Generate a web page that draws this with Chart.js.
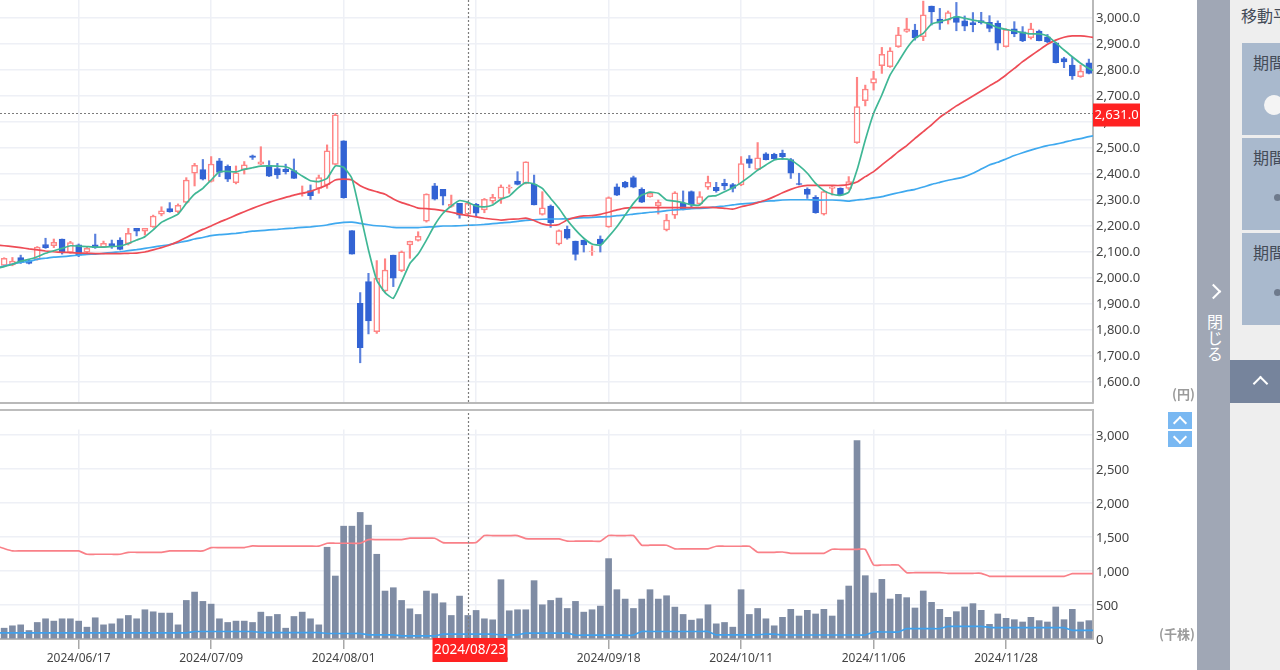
<!DOCTYPE html>
<html lang="ja">
<head>
<meta charset="utf-8">
<title>株価チャート</title>
<script src="https://cdn.jsdelivr.net/npm/chart.js@4/dist/chart.umd.min.js"></script>
<style>
  html, body { margin: 0; padding: 0; width: 1280px; height: 670px; overflow: hidden; background: #fff; font-family: "Noto Sans CJK JP", "Noto Sans", sans-serif; }
  canvas { position: absolute; left: 0; }
  .abs { position: absolute; }
  .card { position: absolute; left: 1242px; width: 38px; height: 92px; background: #a9b9cd; overflow: hidden; }
  .card span { position: absolute; left: 11px; top: 7px; font-size: 16px; color: #444b57; white-space: nowrap; }
  .chev { position: absolute; width: 8px; height: 8px; border-top: 2px solid #fff; border-right: 2px solid #fff; }
  .unit { position: absolute; color: #9b9b9b; font-size: 13px; font-weight: 700; white-space: nowrap; }
  .arrow { position: absolute; left: 1168px; width: 24px; background: #79b8f2; }
</style>
</head>
<body>
<canvas id="priceChart" width="1197" height="405" style="top:0"></canvas>
<canvas id="volumeChart" width="1197" height="261" style="top:409px"></canvas>
<div class="abs" style="left:0;top:409px;width:1093px;height:2px;background:#bdbdbd"></div>

<div class="unit" style="left:1172px;top:384px">(円)</div>
<div class="unit" style="left:1159px;top:624px">(千株)</div>
<div class="arrow" style="top:412px;height:17px"><div class="chev" style="left:7px;top:6px;transform:rotate(-45deg)"></div></div>
<div class="arrow" style="top:431px;height:16px"><div class="chev" style="left:7px;top:1px;transform:rotate(135deg)"></div></div>

<!-- side panel -->
<div class="abs" style="left:1197px;top:0;width:33px;height:670px;background:#a0a7b5"></div>
<div class="chev" style="left:1208px;top:286px;transform:rotate(45deg);width:9px;height:9px"></div>
<div class="abs" style="left:1205px;top:314px;writing-mode:vertical-rl;font-size:16px;color:#fff;line-height:20px">閉じる</div>
<div class="abs" style="left:1230px;top:0;width:50px;height:670px;background:#eeeeee"></div>
<div class="abs" style="left:1241px;top:3px;font-size:16px;color:#444b57;white-space:nowrap">移動平均線</div>
<div class="card" style="top:43px"><span>期間</span><div class="abs" style="left:22px;top:52px;width:20px;height:20px;border-radius:50%;background:#f4f4f4"></div></div>
<div class="card" style="top:138px"><span>期間</span><div class="abs" style="left:32px;top:56px;width:7px;height:7px;border-radius:50%;background:#6e7a8c"></div></div>
<div class="card" style="top:233px"><span>期間</span><div class="abs" style="left:32px;top:56px;width:7px;height:7px;border-radius:50%;background:#6e7a8c"></div></div>
<div class="abs" style="left:1230px;top:360px;width:50px;height:43px;background:#76849c"></div>
<div class="chev" style="left:1255px;top:378px;transform:rotate(-45deg);width:9px;height:9px"></div>

<script>
// Trading days on the x axis
const dates = [
  '2024/06/04','2024/06/05','2024/06/06','2024/06/07','2024/06/10','2024/06/11','2024/06/12','2024/06/13','2024/06/14','2024/06/17',
  '2024/06/18','2024/06/19','2024/06/20','2024/06/21','2024/06/24','2024/06/25','2024/06/26','2024/06/27','2024/06/28','2024/07/01',
  '2024/07/02','2024/07/03','2024/07/04','2024/07/05','2024/07/08','2024/07/09','2024/07/10','2024/07/11','2024/07/12','2024/07/16',
  '2024/07/17','2024/07/18','2024/07/19','2024/07/22','2024/07/23','2024/07/24','2024/07/25','2024/07/26','2024/07/29','2024/07/30',
  '2024/07/31','2024/08/01','2024/08/02','2024/08/05','2024/08/06','2024/08/07','2024/08/08','2024/08/09','2024/08/13','2024/08/14',
  '2024/08/15','2024/08/16','2024/08/19','2024/08/20','2024/08/21','2024/08/22','2024/08/23','2024/08/26','2024/08/27','2024/08/28',
  '2024/08/29','2024/08/30','2024/09/02','2024/09/03','2024/09/04','2024/09/05','2024/09/06','2024/09/09','2024/09/10','2024/09/11',
  '2024/09/12','2024/09/13','2024/09/17','2024/09/18','2024/09/19','2024/09/20','2024/09/24','2024/09/25','2024/09/26','2024/09/27',
  '2024/09/30','2024/10/01','2024/10/02','2024/10/03','2024/10/04','2024/10/07','2024/10/08','2024/10/09','2024/10/10','2024/10/11',
  '2024/10/15','2024/10/16','2024/10/17','2024/10/18','2024/10/21','2024/10/22','2024/10/23','2024/10/24','2024/10/25','2024/10/28',
  '2024/10/29','2024/10/30','2024/10/31','2024/11/01','2024/11/05','2024/11/06','2024/11/07','2024/11/08','2024/11/11','2024/11/12',
  '2024/11/13','2024/11/14','2024/11/15','2024/11/18','2024/11/19','2024/11/20','2024/11/21','2024/11/22','2024/11/25','2024/11/26',
  '2024/11/27','2024/11/28','2024/11/29','2024/12/02','2024/12/03','2024/12/04','2024/12/05','2024/12/06','2024/12/09','2024/12/10',
  '2024/12/11','2024/12/12'
];
const tickDates = ['2024/06/17','2024/07/09','2024/08/01','2024/08/26','2024/09/18','2024/10/11','2024/11/06','2024/11/28'];
const priceTicks = [1600,1700,1800,1900,2000,2100,2200,2300,2400,2500,2600,2700,2800,2900,3000];
const volumeTicks = [0,500,1000,1500,2000,2500,3000];

// Candles
const open = [
  2046,2048,2077,2065,2070,2127,2122,2148,2096,2126,
  2097,2126,2117,2130,2144,2130,2189,2178,2195,2244,
  2265,2253,2289,2401,2415,2370,2449,2428,2365,2415,
  2468,2436,2430,2419,2416,2411,2322,2334,2343,2356,
  2435,2526,2180,1901,1984,1792,1948,2086,2026,2125,
  2143,2217,2353,2339,2273,2285,2244,2281,2260,2294,
  2304,2344,2371,2362,2358,2243,2275,2129,2185,2140,
  2144,2100,2148,2195,2349,2366,2384,2339,2311,2276,
  2183,2240,2285,2330,2283,2347,2347,2362,2357,2356,
  2456,2416,2476,2474,2478,2454,2361,2339,2308,2244,
  2343,2343,2343,2519,2680,2747,2815,2811,2888,2946,
  2952,2926,3044,2994,2990,3003,2987,2980,2988,2981,
  2978,2888,2956,2945,2922,2948,2926,2903,2842,2817,
  2772,2826
];
const close = [
  2074,2063,2058,2054,2117,2115,2135,2096,2134,2086,
  2112,2115,2131,2119,2108,2170,2178,2189,2236,2256,
  2253,2278,2375,2431,2378,2436,2404,2378,2403,2433,
  2462,2445,2390,2395,2407,2381,2326,2315,2384,2487,
  2626,2307,2090,1730,1833,1997,2029,1997,2099,2139,
  2158,2321,2301,2313,2281,2240,2285,2247,2301,2308,
  2349,2348,2358,2445,2279,2268,2211,2180,2151,2089,
  2125,2102,2129,2307,2317,2347,2347,2290,2324,2289,
  2221,2326,2262,2279,2311,2366,2334,2352,2343,2438,
  2439,2460,2453,2456,2465,2401,2358,2320,2249,2330,
  2349,2317,2369,2657,2725,2765,2858,2872,2933,2956,
  2921,3010,3021,2978,3019,2981,2967,2972,2980,2958,
  2901,2954,2937,2910,2956,2911,2906,2826,2829,2775,
  2794,2785
];
const high = [
  2076,2077,2086,2070,2119,2151,2148,2148,2139,2129,
  2117,2167,2140,2144,2153,2189,2189,2189,2240,2272,
  2288,2283,2384,2439,2454,2465,2458,2433,2429,2446,
  2471,2503,2449,2439,2436,2456,2352,2356,2394,2510,
  2631,2526,2180,1942,2016,2065,2072,2086,2102,2140,
  2176,2322,2362,2339,2317,2285,2292,2285,2304,2320,
  2356,2356,2407,2445,2394,2330,2279,2183,2198,2140,
  2144,2122,2160,2310,2360,2370,2390,2345,2326,2298,
  2243,2330,2333,2333,2330,2390,2366,2378,2362,2465,
  2469,2519,2480,2478,2490,2458,2401,2345,2315,2333,
  2353,2345,2388,2770,2740,2793,2885,2884,2962,2997,
  2974,3063,3044,3035,3025,3058,3006,3019,3020,3007,
  2987,2957,2984,2965,2978,2952,2935,2905,2847,2847,
  2817,2840
];
const low = [
  2042,2045,2054,2052,2067,2112,2115,2090,2093,2080,
  2090,2112,2115,2112,2106,2125,2160,2163,2193,2237,
  2251,2249,2285,2352,2375,2367,2388,2369,2360,2398,
  2454,2434,2388,2381,2398,2381,2313,2300,2324,2343,
  2433,2305,2090,1672,1783,1785,1945,1965,2022,2074,
  2140,2213,2298,2279,2270,2228,2240,2234,2249,2285,
  2285,2324,2356,2360,2279,2240,2193,2125,2147,2067,
  2098,2085,2098,2193,2315,2345,2345,2288,2309,2244,
  2179,2227,2260,2272,2279,2339,2328,2337,2329,2353,
  2422,2413,2452,2454,2454,2381,2356,2304,2247,2240,
  2317,2315,2337,2516,2660,2721,2785,2808,2885,2943,
  2913,2911,2971,2954,2975,2949,2949,2945,2975,2945,
  2875,2886,2926,2907,2917,2910,2903,2825,2807,2762,
  2770,2783
];

// Moving averages, each with one extra point past both ends of the window
// so the line runs off the plot like in the picture
const maShort = [
  2034,
  2042,2051,2063,2070,2080,2093,2103,2112,2122,2121,
  2119,2117,2117,2119,2121,2131,2144,2157,2183,2212,
  2228,2244,2285,2321,2343,2375,2407,2408,2406,2416,
  2422,2428,2429,2428,2426,2411,2390,2372,2369,2381,
  2429,2424,2381,2247,2106,1990,1942,1920,1984,2054,
  2090,2144,2202,2247,2275,2296,2289,2275,2272,2279,
  2301,2313,2343,2365,2360,2343,2304,2266,2221,2183,
  2151,2129,2124,2157,2195,2240,2285,2317,2328,2324,
  2298,2294,2288,2279,2279,2311,2315,2330,2345,2365,
  2388,2413,2433,2452,2456,2452,2430,2401,2362,2334,
  2320,2316,2328,2413,2529,2631,2702,2779,2830,2881,
  2920,2939,2975,2984,2993,3003,2997,2990,2984,2975,
  2961,2954,2948,2942,2937,2937,2929,2903,2875,2849,
  2824,2804,
  2790
];
const maMid = [
  2125,
  2122,2119,2115,2110,2106,2102,2099,2097,2096,2094,
  2093,2092,2092,2092,2092,2093,2094,2098,2106,2115,
  2125,2138,2154,2170,2185,2198,2213,2226,2240,2253,
  2266,2278,2289,2299,2308,2317,2324,2331,2343,2356,
  2375,2378,2375,2353,2339,2330,2320,2302,2288,2278,
  2267,2265,2262,2257,2251,2244,2238,2233,2228,2224,
  2221,2224,2225,2228,2219,2206,2201,2204,2221,2231,
  2237,2238,2243,2251,2260,2267,2269,2269,2269,2269,
  2269,2269,2269,2269,2269,2270,2269,2266,2263,2272,
  2279,2288,2298,2311,2326,2339,2349,2354,2354,2354,
  2354,2354,2358,2367,2388,2407,2433,2458,2484,2507,
  2535,2561,2587,2616,2638,2660,2679,2698,2717,2737,
  2756,2779,2804,2830,2853,2875,2897,2913,2924,2929,
  2929,2926,
  2921
];
const maLong = [
  2036,
  2044,2052,2058,2062,2070,2074,2078,2080,2083,2086,
  2089,2090,2093,2096,2099,2103,2107,2112,2117,2122,
  2127,2134,2140,2148,2154,2161,2165,2167,2170,2174,
  2178,2180,2183,2185,2188,2190,2193,2195,2198,2202,
  2208,2212,2213,2208,2203,2199,2197,2193,2192,2192,
  2192,2194,2195,2198,2198,2199,2201,2202,2204,2207,
  2210,2212,2216,2220,2222,2224,2225,2225,2226,2228,
  2230,2231,2233,2234,2238,2240,2244,2247,2251,2253,
  2257,2260,2262,2265,2266,2268,2272,2275,2279,2283,
  2285,2289,2294,2295,2298,2299,2299,2299,2298,2298,
  2298,2297,2294,2298,2301,2306,2311,2319,2326,2333,
  2339,2348,2358,2366,2374,2380,2388,2401,2417,2433,
  2443,2456,2469,2480,2490,2499,2507,2513,2520,2528,
  2534,2542,
  2548
];

// Volume panel (thousand shares)
const volume = [
  159,194,208,125,243,297,263,297,297,263,
  174,312,208,223,297,346,297,430,400,381,
  381,208,567,690,553,513,297,243,263,263,
  243,395,331,361,159,331,395,297,208,1349,
  926,1659,1659,1861,1674,1246,705,754,567,444,
  361,705,666,533,346,631,346,420,297,282,
  872,415,430,430,858,503,567,602,449,553,
  395,430,484,1182,725,587,449,587,725,587,
  636,469,361,277,297,503,223,243,174,725,
  361,449,297,194,319,436,338,422,368,436,
  338,574,779,2917,931,676,877,588,657,608,
  456,706,539,436,319,402,471,520,422,216,
  368,304,284,250,319,270,250,471,284,436,
  250,270
];
const volMaLong = [
  1370,
  1330,1295,1295,1295,1295,1295,1295,1295,1295,1295,
  1246,1246,1246,1246,1246,1275,1275,1275,1275,1275,
  1295,1295,1295,1295,1295,1344,1344,1344,1344,1344,
  1369,1365,1365,1365,1365,1365,1365,1365,1365,1408,
  1408,1408,1408,1408,1462,1462,1462,1462,1462,1482,
  1482,1482,1482,1418,1413,1413,1413,1418,1521,1521,
  1521,1521,1521,1477,1472,1472,1472,1472,1438,1438,
  1438,1438,1438,1521,1521,1521,1521,1379,1379,1379,
  1379,1325,1325,1325,1325,1325,1364,1364,1364,1364,
  1364,1275,1275,1275,1279,1260,1260,1260,1260,1260,
  1319,1319,1319,1319,1319,1088,1088,1088,1088,975,
  975,975,975,975,966,966,966,966,966,922,
  922,922,922,922,922,922,922,922,922,961,
  961,961,
  961
];
const volMaShort = [
  91,
  91,91,91,91,91,91,91,91,91,91,
  91,91,91,91,91,91,91,91,91,91,
  91,91,91,110,110,110,110,110,110,110,
  110,95,95,95,95,95,95,95,95,81,
  81,81,81,81,61,61,61,61,46,46,
  46,46,46,71,71,71,71,71,71,71,
  61,61,61,86,86,86,86,86,86,56,
  56,56,56,56,56,56,56,110,110,110,
  110,110,110,110,110,110,61,61,61,61,
  61,61,71,71,59,59,59,59,59,59,
  59,59,59,59,59,103,103,103,103,152,
  152,152,152,152,186,186,186,186,186,172,
  167,167,167,167,167,167,167,167,167,127,
  127,127,
  127
];

// Crosshair position shown in the picture
const crossDate = '2024/08/23';
const crossPrice = 2631;

const upColor = '#ff8585';
const downColor = '#3263d4';
const gridColor = '#eef0f6';
const axisColor = '#b9b9b9';
const textColor = '#444444';
const tagColor = '#ff2222';
const plotRight = 104; // width of the value axis

Chart.defaults.font.family = '"Noto Sans", "Noto Sans CJK JP", sans-serif';
Chart.defaults.font.size = 12;
Chart.defaults.color = textColor;

function keepDateTicks(scale) {
  scale.ticks = scale.ticks.filter(t => tickDates.includes(dates[t.value]));
}

function setTicks(scale, values) {
  scale.ticks = values.map(v => ({ value: v }));
}

// No extra inset for tick labels, the plot has to fill the canvas
function fitAxis(scale, size) {
  if (scale.isHorizontal()) scale.height = size;
  else scale.width = size;
  scale.paddingTop = 0;
  scale.paddingBottom = 0;
  scale.paddingLeft = 0;
  scale.paddingRight = 0;
}

function drawDotted(ctx, x1, y1, x2, y2) {
  ctx.save();
  ctx.strokeStyle = '#7c7c7c';
  ctx.lineWidth = 1.2;
  ctx.setLineDash([2, 2]);
  ctx.beginPath();
  ctx.moveTo(x1, y1);
  ctx.lineTo(x2, y2);
  ctx.stroke();
  ctx.restore();
}

function drawTag(ctx, text, x, y, w, h, fontSize) {
  ctx.save();
  ctx.fillStyle = tagColor;
  ctx.fillRect(x, y, w, h);
  ctx.fillStyle = '#ffffff';
  ctx.font = fontSize + 'px "Noto Sans", sans-serif';
  ctx.textAlign = 'center';
  ctx.textBaseline = 'middle';
  ctx.fillText(text, x + w / 2, y + h / 2 + 0.5);
  ctx.restore();
}

const priceCross = {
  id: 'priceCross',
  afterDraw(chart) {
    const { ctx, chartArea, scales } = chart;
    const x = Math.round(scales.x.getPixelForValue(dates.indexOf(crossDate))) + 0.5;
    const y = Math.round(scales.y.getPixelForValue(crossPrice)) + 0.5;
    drawDotted(ctx, x, 0, x, chartArea.bottom);
    drawDotted(ctx, 0, y, chartArea.right, y);
    const label = crossPrice.toLocaleString('en-US', { minimumFractionDigits: 1 });
    drawTag(ctx, label, chartArea.right, y - 10, 47, 23, 13);
  }
};

const volumeCross = {
  id: 'volumeCross',
  // the vertical grid stops short of the panel top
  beforeDatasetsDraw(chart) {
    const { ctx, chartArea, scales } = chart;
    ctx.save();
    ctx.fillStyle = '#ffffff';
    ctx.fillRect(chartArea.left, chartArea.top, chartArea.width - 1, scales.y.getPixelForValue(3080) - chartArea.top);
    ctx.restore();
  },
  afterDraw(chart) {
    const { ctx, chartArea, scales } = chart;
    const x = Math.round(scales.x.getPixelForValue(dates.indexOf(crossDate))) + 0.5;
    drawDotted(ctx, x, 0, x, chartArea.bottom);
    drawTag(ctx, crossDate, x - 36, chartArea.bottom - 1, 75, 24, 13.5);
  }
};

// Lines sit on a hidden linear axis that lines up with the category bands,
// index 0 of each list being one day before the first visible candle
function lineSet(data, color, order) {
  return {
    type: 'line',
    xAxisID: 'xLine',
    data: data.map((y, i) => ({ x: i - 1, y })),
    borderColor: color,
    borderWidth: 1.7,
    pointRadius: 0,
    tension: 0.15,
    order
  };
}

function lineAxis() {
  return { type: 'linear', display: false, offset: false, min: -0.5, max: dates.length - 0.5 };
}

new Chart(document.getElementById('priceChart'), {
  type: 'bar',
  data: {
    labels: dates,
    datasets: [
      lineSet(maLong, '#3fa9ef', 2),
      lineSet(maMid, '#ee4c56', 1),
      lineSet(maShort, '#3fb795', 0),
      {
        // bodies are opaque so the wick does not show through the hollow ones
        xAxisID: 'x',
        data: open.map((o, i) => [o, close[i]]),
        grouped: false,
        barThickness: 6,
        borderWidth: 1.5,
        borderSkipped: false,
        borderColor: ctx => close[ctx.dataIndex] >= open[ctx.dataIndex] ? upColor : downColor,
        backgroundColor: ctx => close[ctx.dataIndex] >= open[ctx.dataIndex] ? '#ffffff' : downColor,
        order: 3
      },
      {
        xAxisID: 'x',
        data: low.map((l, i) => [l, high[i]]),
        grouped: false,
        barThickness: 1.5,
        borderWidth: 0,
        backgroundColor: ctx => close[ctx.dataIndex] >= open[ctx.dataIndex] ? upColor : '#5a80dd',
        order: 4
      }
    ]
  },
  options: {
    responsive: false,
    animation: false,
    events: [],
    layout: { padding: 0 },
    plugins: { legend: { display: false }, tooltip: { enabled: false } },
    scales: {
      xLine: lineAxis(),
      x: {
        type: 'category',
        offset: true,
        grid: { offset: false, color: gridColor, lineWidth: 1.5, drawTicks: false },
        border: { color: axisColor, width: 2 },
        ticks: { display: false, autoSkip: false },
        afterBuildTicks: keepDateTicks,
        afterFit: s => fitAxis(s, 2)
      },
      y: {
        position: 'right',
        min: 1517.3,
        max: 3067.3,
        grid: { color: gridColor, lineWidth: 1.5, drawTicks: false },
        border: { color: axisColor, width: 2 },
        ticks: {
          autoSkip: false,
          padding: 3,
          labelOffset: 1,
          font: { size: 13 },
          callback: v => v.toLocaleString('en-US', { minimumFractionDigits: 1 })
        },
        afterBuildTicks: s => setTicks(s, priceTicks),
        afterFit: s => fitAxis(s, plotRight)
      }
    }
  },
  plugins: [priceCross]
});

new Chart(document.getElementById('volumeChart'), {
  type: 'bar',
  data: {
    labels: dates,
    datasets: [
      lineSet(volMaLong, '#f98088', 1),
      lineSet(volMaShort, '#3fa0ec', 0),
      { xAxisID: 'x', data: volume, grouped: false, barThickness: 6, backgroundColor: '#7f8ca4', order: 2 }
    ]
  },
  options: {
    responsive: false,
    animation: false,
    events: [],
    layout: { padding: 0 },
    plugins: { legend: { display: false }, tooltip: { enabled: false } },
    scales: {
      xLine: lineAxis(),
      x: {
        type: 'category',
        offset: true,
        grid: { offset: false, color: gridColor, lineWidth: 1.5, tickColor: '#a8a8a8', tickLength: 10 },
        border: { color: axisColor, width: 2 },
        ticks: { autoSkip: false, maxRotation: 0, padding: 2 },
        afterBuildTicks: keepDateTicks,
        afterFit: s => fitAxis(s, 31)
      },
      y: {
        position: 'right',
        min: 0,
        max: 3382,
        grid: { color: gridColor, lineWidth: 1.5, drawTicks: false },
        border: { color: axisColor, width: 2 },
        ticks: {
          autoSkip: false,
          padding: 3,
          labelOffset: 1,
          font: { size: 13 },
          callback: v => v.toLocaleString('en-US')
        },
        afterBuildTicks: s => setTicks(s, volumeTicks),
        afterFit: s => fitAxis(s, plotRight)
      }
    }
  },
  plugins: [volumeCross]
});
</script>
</body>
</html>
